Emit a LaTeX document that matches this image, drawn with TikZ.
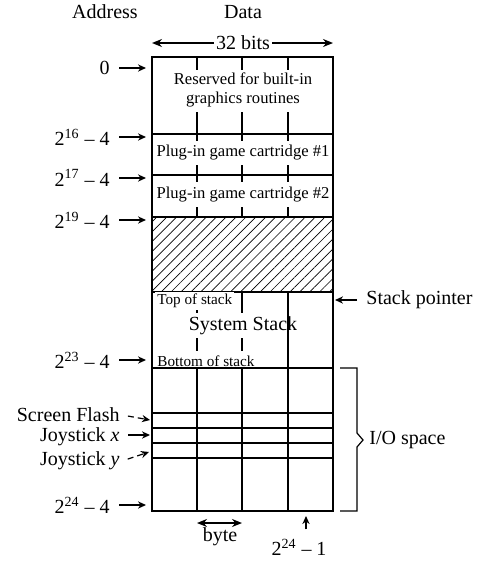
\documentclass[tikz,border=0pt]{standalone}
\usepackage{fontspec}
\setmainfont{Liberation Serif}
\usetikzlibrary{arrows.meta,patterns.meta}

\begin{document}
\begin{tikzpicture}[x=0.5pt,y=-0.5pt,
  grid/.style={line width=0.8pt},
  ptr/.style={-{Stealth[length=4pt,width=3.6pt]},line width=0.7pt},
  faint/.style={densely dashed,line width=0.6pt},
  dim/.style={{Stealth[length=5pt,width=4pt]}-{Stealth[length=5pt,width=4pt]},line width=0.7pt},
  lbl/.style={inner sep=1pt,font=\fontsize{10}{12}\selectfont},
  addr/.style={lbl,anchor=east},
  cell/.style={inner sep=1pt,font=\fontsize{8.3}{9.4}\selectfont,align=center},
  tiny/.style={inner sep=1pt,font=\fontsize{7.6}{9}\selectfont,anchor=west}]
  \useasboundingbox (0,0) rectangle (502,562);
  % headings
  \node[lbl] (addrhd) at (105,12) {Address};
  \node[lbl] (datahd) at (243,12) {Data};
  % word width
  \coordinate (wl) at (152,43); \coordinate (wr) at (333,43);
  \draw[dim] (wl) -- (wr);
  \node[lbl,fill=white] (bits) at (243,43) {32 bits};
  % unused area
  \fill[pattern={Lines[angle=45,distance=3.5pt,line width=0.35pt]}] (152,217) rectangle (333,292);
  % memory rows
  \foreach \y in {134,175,217,292,368,413,428,443,458} \draw[grid] (152,\y) -- (333,\y);
  \draw[grid] (152,57) rectangle (333,511);
  % byte columns
  \foreach \x in {197,242,288}
    \foreach \ya/\yb in {57/70,112/134,134/141,165/175,175/182,207/217,368/511} \draw[grid] (\x,\ya) -- (\x,\yb);
  \foreach \x in {197,242} \draw[grid] (\x,292) -- (\x,313) (\x,338) -- (\x,351);
  \draw[grid] (288,292) -- (288,368);
  % contents
  \node[cell] (rom) at (243,90) {Reserved for built-in\\graphics routines};
  \node[cell] (cart1) at (243,153) {Plug-in game cartridge \#1};
  \node[cell] (cart2) at (243,195) {Plug-in game cartridge \#2};
  \node[tiny,fill=white] (tos) at (155,301) {Top of stack};
  \node[lbl] (stack) at (243,326) {System Stack};
  \node[tiny] (bos) at (155,361) {Bottom of stack};
  % addresses
  \foreach \n/\t/\y in {a0/{0}/68,a16/{2\textsuperscript{16} – 4}/137,a17/{2\textsuperscript{17} – 4}/178,
      a19/{2\textsuperscript{19} – 4}/220,a23/{2\textsuperscript{23} – 4}/360,a24/{2\textsuperscript{24} – 4}/505} {
    \node[addr] (\n) at (112,\y) {\t};
    \coordinate (\n p) at (146,\y);
    \draw[ptr,shorten <=3.5pt] (\n.east) -- (\n p);
  }
  % i/o registers
  \node[addr] (flash) at (122,415) {Screen Flash};
  \node[addr] (joyx) at (122,437) {Joystick \textit{x}};
  \node[addr] (joyy) at (122,461) {Joystick \textit{y}};
  \coordinate (flashp) at (150,420);
  \coordinate (joyxp) at (150,435);
  \coordinate (joyyp) at (149,452);
  \draw[ptr,faint,shorten <=3pt] (flash.east) -- (flashp);
  \draw[ptr,shorten <=3pt] (joyx.east |- joyxp) -- (joyxp);
  \draw[ptr,faint,shorten <=3pt] (joyy.east) -- (joyyp);
  % stack pointer
  \node[lbl,anchor=west] (sp) at (364,300) {Stack pointer};
  \coordinate (spp) at (335,300);
  \draw[ptr,shorten <=3.5pt] (sp.west) -- (spp);
  % i/o bracket
  \node[lbl,anchor=west] (io) at (367,440) {I/O space};
  \draw[line width=0.6pt] (340,368) -- (357,368) -- (357,433) -- (363,440) -- (357,447) -- (357,511) -- (340,511);
  % byte and last address
  \coordinate (bl) at (197,523); \coordinate (br) at (242,523);
  \draw[dim] (bl) -- (br);
  \node[lbl] (byte) at (220,537) {byte};
  \node[lbl] (last) at (299,547) {2\textsuperscript{24} – 1};
  \coordinate (lastp) at (306,516);
  \draw[ptr,shorten <=3.5pt] (last.north -| lastp) -- (lastp);
\end{tikzpicture}
\end{document}
